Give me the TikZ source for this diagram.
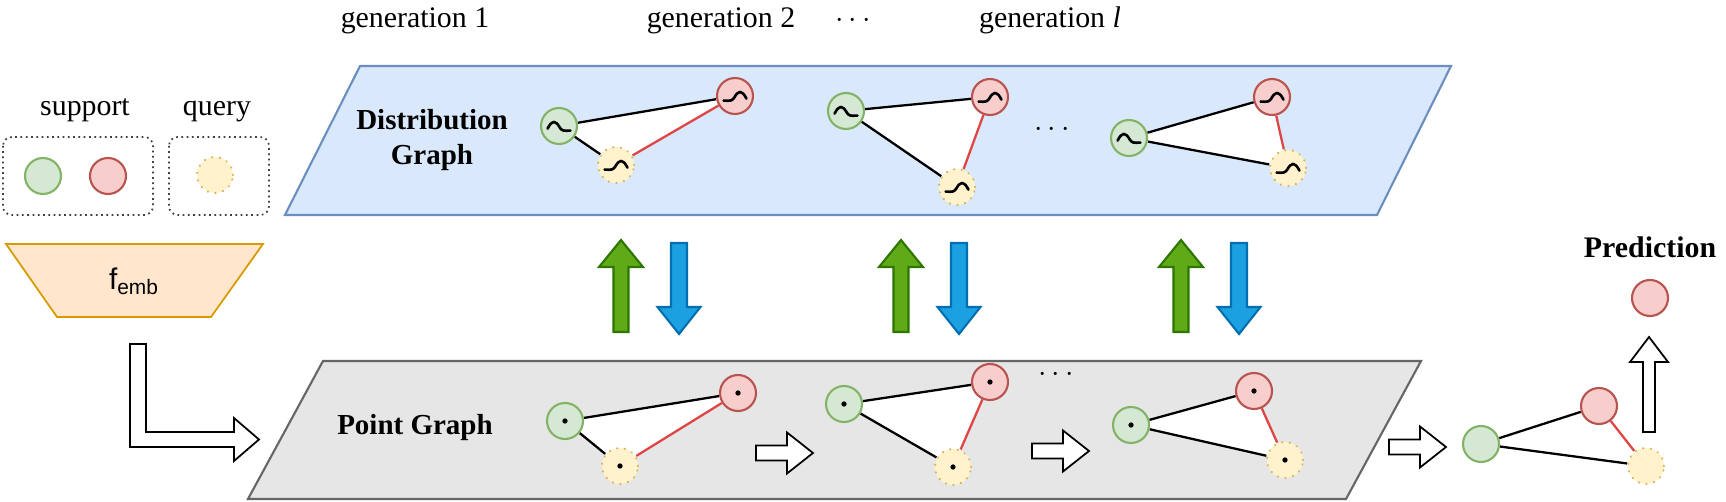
\documentclass[tikz,border=0pt]{standalone}
\usepackage{fontspec}
\setmainfont{Liberation Serif}
\newfontfamily\sansf{Liberation Sans}
\pgfdeclarelayer{planes}
\pgfdeclarelayer{edges}
\pgfsetlayers{planes,edges,main}
\definecolor{dgfill}{HTML}{DAE8FC}
\definecolor{dgline}{HTML}{6C8EBF}
\definecolor{ptfill}{HTML}{E6E6E6}
\definecolor{ptline}{HTML}{666666}
\definecolor{gfill}{HTML}{D5E8D4}
\definecolor{gline}{HTML}{82B366}
\definecolor{rfill}{HTML}{F8CECC}
\definecolor{rline}{HTML}{B85450}
\definecolor{yfill}{HTML}{FFF2CC}
\definecolor{yline}{HTML}{D6B656}
\definecolor{ofill}{HTML}{FFE6CC}
\definecolor{oline}{HTML}{D79B00}
\definecolor{garf}{HTML}{60A917}
\definecolor{garl}{HTML}{2D7600}
\definecolor{barf}{HTML}{1BA1E2}
\definecolor{barl}{HTML}{006EAF}
\definecolor{redge}{HTML}{E04545}
\tikzset{
  lbl/.style={font=\fontsize{17}{20}\selectfont, anchor=base, inner sep=0},
  blbl/.style={font=\fontsize{16.5}{20}\selectfont\bfseries, inner sep=0, align=center},
  gn/.style={circle, draw=gline, fill=gfill, line width=1.2pt, minimum size=0.72cm, inner sep=0},
  rn/.style={circle, draw=rline, fill=rfill, line width=1.2pt, minimum size=0.72cm, inner sep=0},
  yn/.style={circle, draw=yline, fill=yfill, line width=1.3pt, dash pattern=on 0.1pt off 4.3pt, line cap=round, minimum size=0.72cm, inner sep=0},
  ptdot/.style={path picture={\fill[black] (path picture bounding box.center) circle (1.5pt);}},
  bellL/.style={path picture={\begin{scope}[shift={(path picture bounding box.center)}]
     \draw[black, line width=1.5pt, solid, line cap=round, line join=round] (-6.5pt,-1.5pt) .. controls (-4pt,3.5pt) and (-2pt,3.5pt) .. (0.5pt,-1pt) .. controls (2pt,-2.8pt) .. (6.5pt,-2.6pt);
     \end{scope}}},
  bellR/.style={path picture={\begin{scope}[shift={(path picture bounding box.center)}]
     \draw[black, line width=1.5pt, solid, line cap=round, line join=round] (-6.5pt,-2.6pt) .. controls (-2pt,-2.8pt) .. (-0.5pt,-1pt) .. controls (2pt,3.5pt) and (4pt,3.5pt) .. (6.5pt,-1.5pt);
     \end{scope}}},
  edg/.style={line width=1.3pt, draw=black},
  redg/.style={line width=1.3pt, draw=redge},
  harrow/.style={draw=black, fill=white, line width=1pt, line join=miter},
  garrow/.style={draw=garl, fill=garf, line width=1.2pt},
  barrow/.style={draw=barl, fill=barf, line width=1.2pt},
  dotbox/.style={draw=black!75, dotted, line width=1pt, rounded corners=5pt},
}
\newcommand\trio[5]{%
  \node[gn,#5] (#1g) at (#2) {};
  \node[rn,#5] (#1r) at (#3) {};
  \node[yn,#5] (#1y) at (#4) {};
  \begin{pgfonlayer}{edges}
    \fill[white] (#1g.center) -- (#1r.center) -- (#1y.center) -- cycle;
    \draw[edg] (#1g) -- (#1r);
    \draw[edg] (#1g) -- (#1y);
    \draw[redg] (#1y) -- (#1r);
  \end{pgfonlayer}}
\newcommand\trioD[4]{%
  \node[gn,bellL] (#1g) at (#2) {};
  \node[rn,bellR] (#1r) at (#3) {};
  \node[yn,bellR] (#1y) at (#4) {};
  \begin{pgfonlayer}{edges}
    \fill[white] (#1g.center) -- (#1r.center) -- (#1y.center) -- cycle;
    \draw[edg] (#1g) -- (#1r);
    \draw[edg] (#1g) -- (#1y);
    \draw[redg] (#1y) -- (#1r);
  \end{pgfonlayer}}
\begin{document}
\begin{tikzpicture}[x=0.02cm,y=-0.02cm]
\useasboundingbox (0,0) rectangle (1726,502);
% planes
\begin{pgfonlayer}{planes}
\path[fill=dgfill, draw=dgline, line width=1.2pt] (360,66) -- (1451,66) -- (1377,215) -- (285,215) -- cycle;
\path[fill=ptfill, draw=ptline, line width=1.2pt] (323,361) -- (1421,361) -- (1346,499) -- (248,499) -- cycle;
\end{pgfonlayer}
% top labels
\node[lbl] (gen1) at (415,28) {generation 1};
\node[lbl] (gen2) at (721,28) {generation 2};
\node[lbl] (gdots) at (853,28) {$\cdots$};
\node[lbl] (genl) at (1050,28) {generation \textit{l}};
% left legend
\node[lbl] (suplbl) at (85,116) {support};
\node[lbl] (qrylbl) at (217,116) {query};
\draw[dotbox] (3,137) rectangle (153,215);
\draw[dotbox] (169,137) rectangle (269,215);
\node[gn] (sg) at (43,176) {};
\node[rn] (sr) at (108,176) {};
\node[yn] (qy) at (215,175) {};
% f_emb
\path[fill=ofill, draw=oline, line width=1pt] (6,244) -- (263,244) -- (211,317) -- (57,317) -- cycle;
\node[font=\sansf\fontsize{17}{20}\selectfont] (femb) at (134,281) {f\textsubscript{emb}};
% L arrow
\draw[harrow] (130,344) -- (130,447) -- (234,447) -- (234,461) -- (259,439.5) -- (234,418) -- (234,432) -- (146,432) -- (146,344) -- cycle;
% plane labels
\node[blbl] (dglbl) at (432,140) {Distribution\\Graph};
\node[lbl, font=\fontsize{16.5}{20}\selectfont\bfseries] (pglbl) at (415,435) {Point Graph};
% distribution graphs
\trioD{d1}{559,126}{735,96}{616,165}
\trioD{d2}{846,111}{990,97}{957,187}
\trioD{d3}{1129,138}{1272,97}{1288,168}
\node[lbl] (ddots) at (1052,137) {$\cdots$};
% point graphs
\trio{p1}{565,421}{738,393}{620,466}{ptdot}
\trio{p2}{844,404}{990,382}{953,467}{ptdot}
\trio{p3}{1131,425}{1254,391}{1285,460}{ptdot}
\node[lbl] (pdots) at (1056,382) {$\cdots$};
% output graph
\trio{o}{1481,444}{1599,406}{1646,466}{}
\node[rn] (pred) at (1650,298) {};
\node[lbl, font=\fontsize{17}{20}\selectfont\bfseries] (predlbl) at (1650,258) {Prediction};
% hollow right arrows
\foreach \tx/\ty in {813/453, 1089/451, 1446/447}{
  \draw[harrow, shift={(\tx,\ty)}] (0,0) -- (-26,-20.5) -- (-26,-7.5) -- (-57,-7.5) -- (-57,7.5) -- (-26,7.5) -- (-26,20.5) -- cycle;
}
% up hollow arrow to prediction
\draw[harrow, shift={(1649,337)}] (0,0) -- (19,25) -- (6,25) -- (6,95) -- (-6,95) -- (-6,25) -- (-19,25) -- cycle;
% green up / blue down arrows
\foreach \gx in {621, 901, 1181}{
  \draw[garrow, shift={(\gx,240)}] (0,0) -- (22,27) -- (7.5,27) -- (7.5,92) -- (-7.5,92) -- (-7.5,27) -- (-22,27) -- cycle;
  \draw[barrow, shift={(\gx+58,334)}] (0,0) -- (21.5,-27) -- (8,-27) -- (8,-91) -- (-8,-91) -- (-8,-27) -- (-21.5,-27) -- cycle;
}
\end{tikzpicture}
\end{document}
